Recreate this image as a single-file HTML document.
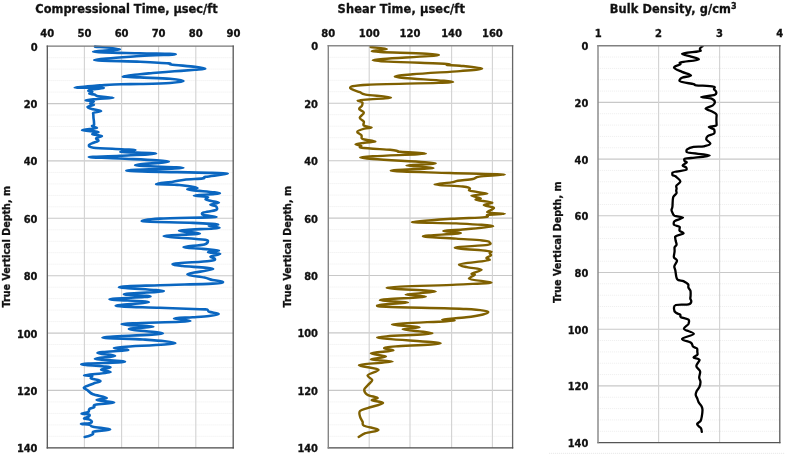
<!DOCTYPE html><html><head><meta charset="utf-8"><title>Logs</title>
<style>html,body{margin:0;padding:0;background:#fff}svg{display:block}text{font-family:"DejaVu Sans","Liberation Sans",sans-serif;font-weight:bold;fill:#111;stroke:#111;stroke-width:0.3px}</style></head><body>
<svg width="785" height="454" viewBox="0 0 785 454">
<rect width="785" height="454" fill="#fff"/>
<line x1="47.3" x2="233.2" y1="57.7" y2="57.7" stroke="#f0f0f0" stroke-width="1" stroke-dasharray="1.2 0.8"/>
<line x1="47.3" x2="233.2" y1="69.1" y2="69.1" stroke="#f0f0f0" stroke-width="1" stroke-dasharray="1.2 0.8"/>
<line x1="47.3" x2="233.2" y1="80.6" y2="80.6" stroke="#f0f0f0" stroke-width="1" stroke-dasharray="1.2 0.8"/>
<line x1="47.3" x2="233.2" y1="92.1" y2="92.1" stroke="#f0f0f0" stroke-width="1" stroke-dasharray="1.2 0.8"/>
<line x1="47.3" x2="233.2" y1="115.0" y2="115.0" stroke="#f0f0f0" stroke-width="1" stroke-dasharray="1.2 0.8"/>
<line x1="47.3" x2="233.2" y1="126.5" y2="126.5" stroke="#f0f0f0" stroke-width="1" stroke-dasharray="1.2 0.8"/>
<line x1="47.3" x2="233.2" y1="138.0" y2="138.0" stroke="#f0f0f0" stroke-width="1" stroke-dasharray="1.2 0.8"/>
<line x1="47.3" x2="233.2" y1="149.5" y2="149.5" stroke="#f0f0f0" stroke-width="1" stroke-dasharray="1.2 0.8"/>
<line x1="47.3" x2="233.2" y1="172.4" y2="172.4" stroke="#f0f0f0" stroke-width="1" stroke-dasharray="1.2 0.8"/>
<line x1="47.3" x2="233.2" y1="183.9" y2="183.9" stroke="#f0f0f0" stroke-width="1" stroke-dasharray="1.2 0.8"/>
<line x1="47.3" x2="233.2" y1="195.4" y2="195.4" stroke="#f0f0f0" stroke-width="1" stroke-dasharray="1.2 0.8"/>
<line x1="47.3" x2="233.2" y1="206.8" y2="206.8" stroke="#f0f0f0" stroke-width="1" stroke-dasharray="1.2 0.8"/>
<line x1="47.3" x2="233.2" y1="229.8" y2="229.8" stroke="#f0f0f0" stroke-width="1" stroke-dasharray="1.2 0.8"/>
<line x1="47.3" x2="233.2" y1="241.3" y2="241.3" stroke="#f0f0f0" stroke-width="1" stroke-dasharray="1.2 0.8"/>
<line x1="47.3" x2="233.2" y1="252.7" y2="252.7" stroke="#f0f0f0" stroke-width="1" stroke-dasharray="1.2 0.8"/>
<line x1="47.3" x2="233.2" y1="264.2" y2="264.2" stroke="#f0f0f0" stroke-width="1" stroke-dasharray="1.2 0.8"/>
<line x1="47.3" x2="233.2" y1="287.2" y2="287.2" stroke="#f0f0f0" stroke-width="1" stroke-dasharray="1.2 0.8"/>
<line x1="47.3" x2="233.2" y1="298.6" y2="298.6" stroke="#f0f0f0" stroke-width="1" stroke-dasharray="1.2 0.8"/>
<line x1="47.3" x2="233.2" y1="310.1" y2="310.1" stroke="#f0f0f0" stroke-width="1" stroke-dasharray="1.2 0.8"/>
<line x1="47.3" x2="233.2" y1="321.6" y2="321.6" stroke="#f0f0f0" stroke-width="1" stroke-dasharray="1.2 0.8"/>
<line x1="47.3" x2="233.2" y1="344.5" y2="344.5" stroke="#f0f0f0" stroke-width="1" stroke-dasharray="1.2 0.8"/>
<line x1="47.3" x2="233.2" y1="356.0" y2="356.0" stroke="#f0f0f0" stroke-width="1" stroke-dasharray="1.2 0.8"/>
<line x1="47.3" x2="233.2" y1="367.5" y2="367.5" stroke="#f0f0f0" stroke-width="1" stroke-dasharray="1.2 0.8"/>
<line x1="47.3" x2="233.2" y1="379.0" y2="379.0" stroke="#f0f0f0" stroke-width="1" stroke-dasharray="1.2 0.8"/>
<line x1="47.3" x2="233.2" y1="401.9" y2="401.9" stroke="#f0f0f0" stroke-width="1" stroke-dasharray="1.2 0.8"/>
<line x1="47.3" x2="233.2" y1="413.4" y2="413.4" stroke="#f0f0f0" stroke-width="1" stroke-dasharray="1.2 0.8"/>
<line x1="47.3" x2="233.2" y1="424.9" y2="424.9" stroke="#f0f0f0" stroke-width="1" stroke-dasharray="1.2 0.8"/>
<line x1="47.3" x2="233.2" y1="436.3" y2="436.3" stroke="#f0f0f0" stroke-width="1" stroke-dasharray="1.2 0.8"/>
<line x1="47.3" x2="233.2" y1="103.6" y2="103.6" stroke="#c8c8c8" stroke-width="1.1"/>
<line x1="47.3" x2="233.2" y1="160.9" y2="160.9" stroke="#c8c8c8" stroke-width="1.1"/>
<line x1="47.3" x2="233.2" y1="218.3" y2="218.3" stroke="#c8c8c8" stroke-width="1.1"/>
<line x1="47.3" x2="233.2" y1="275.7" y2="275.7" stroke="#c8c8c8" stroke-width="1.1"/>
<line x1="47.3" x2="233.2" y1="333.1" y2="333.1" stroke="#c8c8c8" stroke-width="1.1"/>
<line x1="47.3" x2="233.2" y1="390.4" y2="390.4" stroke="#c8c8c8" stroke-width="1.1"/>
<line x1="84.4" x2="84.4" y1="46.2" y2="447.8" stroke="#d2d2d2" stroke-width="1.1"/>
<line x1="121.6" x2="121.6" y1="46.2" y2="447.8" stroke="#d2d2d2" stroke-width="1.1"/>
<line x1="158.6" x2="158.6" y1="46.2" y2="447.8" stroke="#d2d2d2" stroke-width="1.1"/>
<line x1="195.8" x2="195.8" y1="46.2" y2="447.8" stroke="#d2d2d2" stroke-width="1.1"/>
<path d="M95.0 46.6C99.2 47.0 119.9 48.4 119.9 49.2C119.9 50.1 93.1 51.0 93.1 51.7C93.1 52.4 126.2 52.9 140.0 53.3C153.8 53.7 175.7 53.8 175.7 54.3C175.7 54.8 153.6 55.0 140.0 56.0C126.4 57.0 94.1 59.0 94.1 60.0C94.1 61.0 127.6 61.1 140.0 61.7C152.4 62.3 163.5 62.9 168.7 63.4C173.9 63.9 166.6 63.9 171.0 64.5C175.4 65.1 189.3 66.1 195.0 66.8C200.7 67.5 205.3 68.2 205.3 68.7C205.3 69.2 200.1 69.4 195.0 69.8C189.9 70.2 181.5 70.8 174.5 71.3C167.5 71.8 158.6 72.5 152.8 73.0C147.1 73.5 145.0 73.6 140.0 74.2C135.0 74.8 122.8 75.9 122.8 76.4C122.8 76.9 132.1 77.0 140.0 77.4C147.9 77.8 162.7 78.2 170.0 78.8C177.3 79.4 183.6 80.4 183.6 81.1C183.6 81.8 177.3 82.5 170.0 83.0C162.7 83.5 148.2 83.8 140.0 84.0C131.8 84.2 127.7 84.0 121.0 84.2C114.3 84.4 107.7 84.9 100.0 85.4C92.3 86.0 74.7 87.1 74.7 87.5C74.7 87.9 103.9 87.7 103.9 88.0C103.9 88.3 94.6 88.8 92.0 89.3C89.4 89.8 88.3 90.5 88.3 90.9C88.3 91.3 92.4 91.3 92.4 91.8C92.4 92.2 89.3 93.1 89.3 93.6C89.3 94.1 93.0 94.1 94.5 94.6C96.0 95.0 95.3 95.8 98.5 96.3C101.7 96.8 113.4 97.3 113.4 97.8C113.4 98.2 102.1 98.6 97.5 99.0C92.9 99.4 85.6 99.8 85.6 100.2C85.6 100.6 93.9 101.0 93.9 101.6C93.9 102.1 90.1 103.0 90.1 103.5C90.1 104.0 93.9 104.1 93.9 104.7C93.9 105.3 87.5 106.2 87.5 106.9C87.5 107.7 90.7 108.5 93.0 109.2C95.3 109.9 101.1 110.5 101.1 111.1C101.1 111.7 93.1 112.4 93.1 113.0C93.1 113.6 93.2 113.7 93.3 114.5C93.4 115.3 93.4 116.9 93.5 118.0C93.6 119.1 93.8 119.8 93.9 121.0C94.0 122.2 94.1 124.2 94.1 125.0C94.1 125.8 91.9 125.6 91.9 126.1C91.9 126.6 97.0 127.3 97.0 128.0C97.0 128.7 82.0 129.5 82.0 130.2C82.0 130.9 98.5 131.3 98.5 132.0C98.5 132.7 92.3 133.5 92.3 134.2C92.3 134.8 101.9 135.2 101.9 135.9C101.9 136.6 96.1 137.6 96.1 138.4C96.1 139.2 98.5 140.0 98.5 140.7C98.5 141.4 95.0 142.1 93.4 142.8C91.8 143.5 89.0 144.2 89.0 145.0C89.0 145.8 88.0 147.0 93.4 147.7C98.8 148.4 114.5 148.8 121.5 149.2C128.5 149.6 135.4 149.6 135.4 150.0C135.4 150.4 120.2 151.2 120.2 151.8C120.2 152.4 156.1 152.9 156.1 153.6C156.1 154.3 131.2 155.2 120.0 155.8C108.8 156.4 88.8 156.7 88.8 157.1C88.8 157.5 106.7 157.8 120.0 158.5C133.3 159.2 168.9 160.4 168.9 161.5C168.9 162.6 135.1 164.2 135.1 165.3C135.1 166.4 183.4 166.9 183.4 167.8C183.4 168.7 126.3 169.6 126.3 170.6C126.3 171.6 227.8 172.6 227.8 173.6C227.8 174.6 210.2 176.0 206.0 176.8C201.8 177.6 206.3 177.9 202.7 178.4C199.1 178.9 189.4 179.1 184.5 179.7C179.6 180.2 177.7 181.0 173.0 181.7C168.3 182.4 156.1 183.3 156.1 183.9C156.1 184.5 172.6 184.3 179.5 185.0C186.4 185.7 197.5 187.3 197.5 188.0C197.5 188.7 187.3 188.4 187.3 189.3C187.3 190.2 219.9 192.3 219.9 193.3C219.9 194.3 193.9 194.9 193.9 195.5C193.9 196.1 208.2 196.4 208.2 197.1C208.2 197.8 205.5 198.7 205.5 199.6C205.5 200.5 218.9 201.8 218.9 202.6C218.9 203.4 210.4 203.9 210.4 204.6C210.4 205.3 216.5 205.8 216.5 206.7C216.5 207.6 218.2 209.0 216.0 210.0C213.8 211.0 205.6 211.7 203.5 212.5C201.4 213.3 201.3 214.3 203.5 215.0C205.7 215.7 216.5 216.3 216.5 216.9C216.5 217.5 172.2 217.9 159.7 218.6C147.2 219.3 141.7 220.5 141.7 221.2C141.7 221.9 180.1 222.3 192.8 222.9C205.6 223.5 218.2 224.0 218.2 224.5C218.2 225.0 208.8 225.1 208.8 225.7C208.8 226.2 219.5 227.0 219.5 227.8C219.5 228.6 179.0 229.8 179.0 230.7C179.0 231.6 199.9 232.6 199.9 233.5C199.9 234.4 163.7 235.2 163.7 236.1C163.7 237.0 188.6 238.2 196.0 239.0C203.4 239.8 207.9 239.7 207.9 240.6C207.9 241.5 208.5 243.3 204.4 244.4C200.3 245.5 183.5 246.4 183.5 247.2C183.5 247.9 196.8 248.3 202.7 248.9C208.6 249.5 219.0 249.9 219.0 250.5C219.0 251.1 208.0 251.6 208.0 252.2C208.0 252.8 220.2 253.1 220.2 253.8C220.2 254.6 210.4 255.9 210.4 256.7C210.4 257.5 214.9 258.1 214.9 258.8C214.9 259.5 216.4 260.1 209.3 261.0C202.2 261.9 172.4 263.3 172.4 264.1C172.4 264.9 176.0 265.2 182.8 266.0C189.6 266.8 213.2 267.7 213.2 269.1C213.2 270.5 187.3 272.8 187.3 274.2C187.3 275.6 200.2 276.5 204.4 277.5C208.6 278.5 209.5 279.3 212.6 280.0C215.7 280.7 223.1 281.3 223.1 281.9C223.1 282.5 223.2 283.1 212.6 283.6C202.0 284.2 175.3 284.6 159.7 285.2C144.1 285.8 118.9 286.2 118.9 287.2C118.9 288.2 163.9 289.9 163.9 291.1C163.9 292.3 123.9 293.3 123.9 294.2C123.9 295.1 150.5 295.6 150.5 296.4C150.5 297.2 109.5 298.3 109.5 299.2C109.5 300.1 148.9 300.9 148.9 302.0C148.9 303.1 115.6 304.9 115.6 305.8C115.6 306.8 145.6 307.1 159.7 307.7C173.8 308.3 192.1 308.9 200.0 309.2C207.9 309.5 205.4 309.2 207.0 309.6C208.6 310.0 207.4 311.1 209.3 311.8C211.2 312.5 218.7 313.2 218.7 313.9C218.7 314.6 213.4 315.4 209.1 316.0C204.8 316.6 198.5 316.9 192.7 317.3C186.8 317.7 174.0 317.9 174.0 318.5C174.0 319.1 190.4 320.1 190.4 321.0C190.4 321.9 121.6 323.1 121.6 324.1C121.6 325.1 153.4 326.0 153.4 326.8C153.4 327.6 128.9 328.0 128.9 329.1C128.9 330.2 162.9 332.0 162.9 333.4C162.9 334.8 102.4 336.5 102.4 337.5C102.4 338.5 130.8 338.6 143.0 339.5C155.2 340.4 175.4 341.8 175.4 343.2C175.4 344.6 113.9 346.8 113.9 347.9C113.9 349.0 128.3 349.1 128.3 349.9C128.3 350.7 97.4 351.9 97.4 352.9C97.4 353.9 115.1 354.9 115.1 355.9C115.1 356.9 94.9 357.7 94.9 358.7C94.9 359.7 125.0 360.8 125.0 361.7C125.0 362.6 81.2 363.3 81.2 364.2C81.2 365.1 110.5 366.3 110.5 367.2C110.5 368.1 101.1 368.9 101.1 369.7C101.1 370.5 110.5 371.3 110.5 372.2C110.5 373.1 84.1 374.6 84.1 375.2C84.1 375.8 92.3 375.5 92.3 376.0C92.3 376.5 90.7 377.4 90.7 378.2C90.7 379.0 100.5 380.1 100.5 380.9C100.5 381.7 97.3 382.1 95.5 382.8C93.7 383.5 91.5 384.2 89.6 385.0C87.6 385.8 83.8 386.8 83.8 387.7C83.8 388.6 86.5 389.5 88.0 390.6C89.5 391.7 89.9 393.1 93.0 394.3C96.1 395.5 106.8 396.9 106.8 397.9C106.8 398.9 96.6 399.3 96.6 400.1C96.6 400.9 114.2 401.7 114.2 402.5C114.2 403.3 98.7 404.0 95.4 404.8C92.1 405.6 95.2 406.4 94.2 407.1C93.2 407.8 90.4 408.1 89.4 408.9C88.4 409.7 89.7 411.1 88.4 411.9C87.1 412.7 81.6 413.3 81.6 413.7C81.6 414.1 87.7 413.9 88.9 414.4C90.1 414.9 89.7 415.9 88.9 416.6C88.1 417.3 84.0 417.9 84.0 418.4C84.0 418.9 88.2 419.1 89.5 419.6C90.8 420.1 91.9 420.8 91.9 421.4C91.9 422.0 91.3 422.8 89.5 423.2C87.7 423.6 81.0 423.6 81.0 423.9C81.0 424.2 87.5 424.3 89.5 424.8C91.5 425.3 89.5 426.0 93.0 426.8C96.5 427.6 110.2 428.7 110.2 429.5C110.2 430.3 97.1 430.8 94.2 431.5C91.3 432.2 93.8 433.2 93.0 433.9C92.2 434.6 90.9 435.2 89.5 435.7C88.1 436.2 85.5 436.7 84.7 436.9" fill="none" stroke="#0a66c0" stroke-width="2.6" stroke-linejoin="round" stroke-linecap="round"/>
<line x1="47.3" y1="46.2" x2="233.2" y2="46.2" stroke="#777" stroke-width="1.3" stroke-linecap="square"/>
<line x1="233.2" y1="46.2" x2="233.2" y2="447.8" stroke="#555" stroke-width="1.3" stroke-linecap="square"/>
<line x1="47.3" y1="447.8" x2="233.2" y2="447.8" stroke="#484848" stroke-width="1.3" stroke-linecap="square"/>
<line x1="47.3" y1="46.2" x2="47.3" y2="447.8" stroke="#555" stroke-width="1.3" stroke-linecap="square"/>
<text x="47.3" y="36.6" font-size="10" text-anchor="middle">40</text>
<text x="84.4" y="36.6" font-size="10" text-anchor="middle">50</text>
<text x="121.6" y="36.6" font-size="10" text-anchor="middle">60</text>
<text x="158.6" y="36.6" font-size="10" text-anchor="middle">70</text>
<text x="195.8" y="36.6" font-size="10" text-anchor="middle">80</text>
<text x="233.5" y="36.6" font-size="10" text-anchor="middle">90</text>
<text x="37.5" y="50.7" font-size="9.9" text-anchor="end">0</text>
<text x="37.5" y="108.1" font-size="9.9" text-anchor="end">20</text>
<text x="37.5" y="165.4" font-size="9.9" text-anchor="end">40</text>
<text x="37.5" y="222.8" font-size="9.9" text-anchor="end">60</text>
<text x="37.5" y="280.2" font-size="9.9" text-anchor="end">80</text>
<text x="37.5" y="337.6" font-size="9.9" text-anchor="end">100</text>
<text x="37.5" y="394.9" font-size="9.9" text-anchor="end">120</text>
<text x="37.5" y="452.3" font-size="9.9" text-anchor="end">140</text>
<text x="126.5" y="12.6" font-size="11.4" letter-spacing="0" text-anchor="middle">Compressional Time, µsec/ft</text>
<text transform="translate(10.2 246.8) rotate(-90)" font-size="9.6" text-anchor="middle">True Vertical Depth, m</text>
<line x1="328.3" x2="512.6" y1="57.3" y2="57.3" stroke="#f0f0f0" stroke-width="1" stroke-dasharray="1.2 0.8"/>
<line x1="328.3" x2="512.6" y1="68.8" y2="68.8" stroke="#f0f0f0" stroke-width="1" stroke-dasharray="1.2 0.8"/>
<line x1="328.3" x2="512.6" y1="80.3" y2="80.3" stroke="#f0f0f0" stroke-width="1" stroke-dasharray="1.2 0.8"/>
<line x1="328.3" x2="512.6" y1="91.7" y2="91.7" stroke="#f0f0f0" stroke-width="1" stroke-dasharray="1.2 0.8"/>
<line x1="328.3" x2="512.6" y1="114.7" y2="114.7" stroke="#f0f0f0" stroke-width="1" stroke-dasharray="1.2 0.8"/>
<line x1="328.3" x2="512.6" y1="126.2" y2="126.2" stroke="#f0f0f0" stroke-width="1" stroke-dasharray="1.2 0.8"/>
<line x1="328.3" x2="512.6" y1="137.7" y2="137.7" stroke="#f0f0f0" stroke-width="1" stroke-dasharray="1.2 0.8"/>
<line x1="328.3" x2="512.6" y1="149.2" y2="149.2" stroke="#f0f0f0" stroke-width="1" stroke-dasharray="1.2 0.8"/>
<line x1="328.3" x2="512.6" y1="172.1" y2="172.1" stroke="#f0f0f0" stroke-width="1" stroke-dasharray="1.2 0.8"/>
<line x1="328.3" x2="512.6" y1="183.6" y2="183.6" stroke="#f0f0f0" stroke-width="1" stroke-dasharray="1.2 0.8"/>
<line x1="328.3" x2="512.6" y1="195.1" y2="195.1" stroke="#f0f0f0" stroke-width="1" stroke-dasharray="1.2 0.8"/>
<line x1="328.3" x2="512.6" y1="206.6" y2="206.6" stroke="#f0f0f0" stroke-width="1" stroke-dasharray="1.2 0.8"/>
<line x1="328.3" x2="512.6" y1="229.6" y2="229.6" stroke="#f0f0f0" stroke-width="1" stroke-dasharray="1.2 0.8"/>
<line x1="328.3" x2="512.6" y1="241.1" y2="241.1" stroke="#f0f0f0" stroke-width="1" stroke-dasharray="1.2 0.8"/>
<line x1="328.3" x2="512.6" y1="252.5" y2="252.5" stroke="#f0f0f0" stroke-width="1" stroke-dasharray="1.2 0.8"/>
<line x1="328.3" x2="512.6" y1="264.0" y2="264.0" stroke="#f0f0f0" stroke-width="1" stroke-dasharray="1.2 0.8"/>
<line x1="328.3" x2="512.6" y1="287.0" y2="287.0" stroke="#f0f0f0" stroke-width="1" stroke-dasharray="1.2 0.8"/>
<line x1="328.3" x2="512.6" y1="298.5" y2="298.5" stroke="#f0f0f0" stroke-width="1" stroke-dasharray="1.2 0.8"/>
<line x1="328.3" x2="512.6" y1="310.0" y2="310.0" stroke="#f0f0f0" stroke-width="1" stroke-dasharray="1.2 0.8"/>
<line x1="328.3" x2="512.6" y1="321.5" y2="321.5" stroke="#f0f0f0" stroke-width="1" stroke-dasharray="1.2 0.8"/>
<line x1="328.3" x2="512.6" y1="344.4" y2="344.4" stroke="#f0f0f0" stroke-width="1" stroke-dasharray="1.2 0.8"/>
<line x1="328.3" x2="512.6" y1="355.9" y2="355.9" stroke="#f0f0f0" stroke-width="1" stroke-dasharray="1.2 0.8"/>
<line x1="328.3" x2="512.6" y1="367.4" y2="367.4" stroke="#f0f0f0" stroke-width="1" stroke-dasharray="1.2 0.8"/>
<line x1="328.3" x2="512.6" y1="378.9" y2="378.9" stroke="#f0f0f0" stroke-width="1" stroke-dasharray="1.2 0.8"/>
<line x1="328.3" x2="512.6" y1="401.9" y2="401.9" stroke="#f0f0f0" stroke-width="1" stroke-dasharray="1.2 0.8"/>
<line x1="328.3" x2="512.6" y1="413.3" y2="413.3" stroke="#f0f0f0" stroke-width="1" stroke-dasharray="1.2 0.8"/>
<line x1="328.3" x2="512.6" y1="424.8" y2="424.8" stroke="#f0f0f0" stroke-width="1" stroke-dasharray="1.2 0.8"/>
<line x1="328.3" x2="512.6" y1="436.3" y2="436.3" stroke="#f0f0f0" stroke-width="1" stroke-dasharray="1.2 0.8"/>
<line x1="328.3" x2="512.6" y1="103.2" y2="103.2" stroke="#c8c8c8" stroke-width="1.1"/>
<line x1="328.3" x2="512.6" y1="160.7" y2="160.7" stroke="#c8c8c8" stroke-width="1.1"/>
<line x1="328.3" x2="512.6" y1="218.1" y2="218.1" stroke="#c8c8c8" stroke-width="1.1"/>
<line x1="328.3" x2="512.6" y1="275.5" y2="275.5" stroke="#c8c8c8" stroke-width="1.1"/>
<line x1="328.3" x2="512.6" y1="332.9" y2="332.9" stroke="#c8c8c8" stroke-width="1.1"/>
<line x1="328.3" x2="512.6" y1="390.4" y2="390.4" stroke="#c8c8c8" stroke-width="1.1"/>
<line x1="369.2" x2="369.2" y1="45.8" y2="447.8" stroke="#d2d2d2" stroke-width="1.1"/>
<line x1="410.0" x2="410.0" y1="45.8" y2="447.8" stroke="#d2d2d2" stroke-width="1.1"/>
<line x1="451.6" x2="451.6" y1="45.8" y2="447.8" stroke="#d2d2d2" stroke-width="1.1"/>
<line x1="492.4" x2="492.4" y1="45.8" y2="447.8" stroke="#d2d2d2" stroke-width="1.1"/>
<path d="M370.6 47.0C373.3 47.4 386.8 48.4 386.8 49.1C386.8 49.8 371.7 50.3 371.7 51.3C371.7 52.3 439.0 53.4 439.0 54.9C439.0 56.4 372.8 58.7 372.8 60.2C372.8 61.7 431.8 62.9 444.2 63.7C456.6 64.5 444.4 64.7 447.0 65.0C449.6 65.3 454.1 65.1 460.0 65.7C465.9 66.3 482.1 67.7 482.1 68.6C482.1 69.5 471.6 70.1 460.0 71.1C448.4 72.0 423.7 73.3 412.8 74.3C401.9 75.2 394.8 75.5 394.8 76.8C394.8 78.1 453.1 80.6 453.1 81.9C453.1 83.2 385.3 83.7 368.1 84.7C350.9 85.7 350.1 86.8 350.1 88.0C350.1 89.2 357.2 91.1 359.8 92.2C362.4 93.3 360.4 93.7 365.6 94.6C370.8 95.5 391.0 96.6 391.0 97.6C391.0 98.6 357.6 99.6 357.6 100.4C357.6 101.2 362.5 101.6 362.5 102.5C362.5 103.4 362.6 104.6 362.0 105.7C361.4 106.8 359.1 107.7 359.1 108.9C359.1 110.1 363.9 111.2 363.9 112.7C363.9 114.2 359.7 116.3 359.7 117.8C359.7 119.3 363.1 120.3 363.8 121.6C364.5 122.9 362.5 124.5 363.8 125.5C365.1 126.5 371.6 127.1 371.6 127.6C371.6 128.1 366.8 128.0 364.4 128.7C362.0 129.4 357.2 130.8 357.2 131.9C357.2 133.0 360.6 134.0 361.4 135.1C362.1 136.2 361.2 137.6 361.7 138.3C362.2 139.0 362.1 139.0 364.4 139.5C366.7 140.0 375.4 141.0 375.4 141.5C375.4 142.0 367.7 142.2 364.4 142.7C361.1 143.2 355.5 143.8 355.5 144.3C355.5 144.8 360.1 145.3 361.2 145.9C362.2 146.5 357.0 147.2 361.8 147.8C366.6 148.5 384.0 149.3 390.0 149.8C396.0 150.3 395.9 150.7 397.6 151.0C399.3 151.3 395.3 151.4 400.0 151.8C404.7 152.2 425.8 152.5 425.8 153.5C425.8 154.5 360.1 156.0 360.1 157.6C360.1 159.2 435.7 162.0 435.7 163.3C435.7 164.6 406.4 164.6 406.4 165.4C406.4 166.2 433.5 167.0 433.5 167.9C433.5 168.8 390.7 169.8 390.7 170.7C390.7 171.5 431.0 172.3 450.0 173.0C469.0 173.7 504.8 174.0 504.8 174.6C504.8 175.2 484.7 175.9 479.4 176.6C474.1 177.3 476.4 178.3 472.8 179.0C469.2 179.7 461.5 180.1 457.9 180.7C454.3 181.3 455.2 181.8 451.3 182.4C447.4 183.0 434.5 183.8 434.5 184.5C434.5 185.2 456.9 185.8 462.8 186.5C468.7 187.2 470.0 187.8 470.0 188.5C470.0 189.2 468.9 189.8 468.9 190.6C468.9 191.4 487.4 192.8 487.4 193.6C487.4 194.4 471.4 194.8 471.4 195.6C471.4 196.4 480.8 197.7 480.8 198.4C480.8 199.1 475.5 199.0 475.5 199.7C475.5 200.4 492.4 201.8 492.4 202.7C492.4 203.6 483.8 204.1 483.8 205.0C483.8 205.9 494.0 206.8 494.0 208.0C494.0 209.2 487.1 211.2 487.1 212.2C487.1 213.2 504.8 213.4 504.8 213.8C504.8 214.2 491.0 214.4 487.7 214.9C484.4 215.4 491.3 216.4 485.2 217.1C479.1 217.8 463.5 218.0 451.3 218.8C439.1 219.6 411.8 221.3 411.8 222.1C411.8 222.9 442.6 222.7 456.2 223.4C469.8 224.1 493.2 225.2 493.2 226.2C493.2 227.2 471.1 228.7 462.8 229.5C454.5 230.3 443.3 230.3 443.3 230.9C443.3 231.5 460.9 232.1 460.9 233.0C460.9 233.9 422.9 235.4 422.9 236.3C422.9 237.2 445.2 237.7 456.2 238.6C467.2 239.5 489.1 240.5 489.1 241.6C489.1 242.7 493.4 243.9 487.7 244.9C482.0 245.9 454.8 246.6 454.8 247.7C454.8 248.8 491.5 250.6 491.5 251.5C491.5 252.4 489.6 252.5 489.6 253.1C489.6 253.7 491.1 254.5 491.1 255.3C491.1 256.1 486.3 257.3 486.3 258.1C486.3 258.9 489.9 259.1 489.9 260.1C489.9 261.2 459.0 263.2 459.0 264.4C459.0 265.6 463.2 266.3 467.0 267.2C470.8 268.1 481.6 268.6 481.6 269.7C481.6 270.8 471.4 273.0 471.4 273.8C471.4 274.6 474.9 273.9 474.9 274.7C474.9 275.5 468.9 277.5 468.9 278.8C468.9 280.1 491.5 281.5 491.5 282.5C491.5 283.5 473.7 283.7 456.2 284.6C438.7 285.5 386.6 286.6 386.6 287.8C386.6 289.0 435.7 290.5 435.7 291.6C435.7 292.7 405.6 293.8 405.6 294.6C405.6 295.4 425.8 295.7 425.8 296.6C425.8 297.5 379.9 299.2 379.9 300.2C379.9 301.2 408.0 301.6 408.0 302.4C408.0 303.2 378.8 304.1 378.8 304.8C378.8 305.5 371.8 306.1 386.3 306.8C400.8 307.5 449.0 308.1 466.0 309.0C483.0 309.9 488.3 311.1 488.3 312.0C488.3 312.9 486.7 313.6 483.0 314.5C479.3 315.4 473.0 316.5 466.2 317.3C459.4 318.1 442.1 319.0 442.1 319.5C442.1 320.0 454.7 319.7 454.7 320.5C454.7 321.3 392.0 323.3 392.0 324.4C392.0 325.5 419.6 326.4 419.6 327.2C419.6 328.0 402.6 328.3 402.6 329.3C402.6 330.3 432.4 331.9 432.4 333.3C432.4 334.7 377.1 335.9 377.1 337.5C377.1 339.1 440.7 341.7 440.7 343.2C440.7 344.7 405.4 345.6 396.0 346.4C386.6 347.2 384.1 347.5 384.1 348.2C384.1 348.9 393.5 349.5 393.5 350.4C393.5 351.2 370.8 352.3 370.8 353.3C370.8 354.3 386.0 355.6 386.0 356.6C386.0 357.6 370.8 358.6 370.8 359.4C370.8 360.2 392.6 360.6 392.6 361.6C392.6 362.6 358.9 363.8 358.9 365.2C358.9 366.6 378.6 368.1 378.6 369.8C378.6 371.5 367.5 373.9 367.5 375.6C367.5 377.3 372.3 378.5 372.3 380.1C372.3 381.7 369.3 383.4 368.0 385.0C366.7 386.6 364.2 388.1 364.2 389.7C364.2 391.3 365.1 393.3 367.3 394.7C369.6 396.1 377.7 397.1 377.7 398.0C377.7 398.9 371.7 399.4 371.7 400.2C371.7 401.0 383.1 401.6 383.1 402.9C383.1 404.2 372.0 406.5 368.1 407.9C364.2 409.2 361.4 409.6 360.0 411.0C358.6 412.4 359.6 414.7 360.0 416.5C360.4 418.3 361.9 420.3 362.6 421.8C363.3 423.3 361.4 424.4 364.0 425.7C366.6 427.0 378.5 428.6 378.5 429.9C378.5 431.1 368.7 432.0 365.4 433.2C362.1 434.4 359.8 436.3 358.7 436.9" fill="none" stroke="#7f6000" stroke-width="2.4" stroke-linejoin="round" stroke-linecap="round"/>
<line x1="328.3" y1="45.8" x2="512.6" y2="45.8" stroke="#8a8a8a" stroke-width="1.4" stroke-linecap="square"/>
<line x1="512.6" y1="45.8" x2="512.6" y2="447.8" stroke="#666" stroke-width="1.3" stroke-linecap="square"/>
<line x1="328.3" y1="447.8" x2="512.6" y2="447.8" stroke="#484848" stroke-width="1.3" stroke-linecap="square"/>
<line x1="328.3" y1="45.8" x2="328.3" y2="447.8" stroke="#858585" stroke-width="1.4" stroke-linecap="square"/>
<text x="328.3" y="36.6" font-size="10" text-anchor="middle">80</text>
<text x="369.2" y="36.6" font-size="10" text-anchor="middle">100</text>
<text x="410.0" y="36.6" font-size="10" text-anchor="middle">120</text>
<text x="451.6" y="36.6" font-size="10" text-anchor="middle">140</text>
<text x="492.4" y="36.6" font-size="10" text-anchor="middle">160</text>
<text x="318" y="50.3" font-size="9.9" text-anchor="end">0</text>
<text x="318" y="107.7" font-size="9.9" text-anchor="end">20</text>
<text x="318" y="165.2" font-size="9.9" text-anchor="end">40</text>
<text x="318" y="222.6" font-size="9.9" text-anchor="end">60</text>
<text x="318" y="280.0" font-size="9.9" text-anchor="end">80</text>
<text x="318" y="337.4" font-size="9.9" text-anchor="end">100</text>
<text x="318" y="394.9" font-size="9.9" text-anchor="end">120</text>
<text x="318" y="452.3" font-size="9.9" text-anchor="end">140</text>
<text x="401.3" y="12.6" font-size="11.4" letter-spacing="0.12" text-anchor="middle">Shear Time, µsec/ft</text>
<text transform="translate(290.7 246.8) rotate(-90)" font-size="9.6" text-anchor="middle">True Vertical Depth, m</text>
<line x1="598.0" x2="779.8" y1="57.0" y2="57.0" stroke="#f0f0f0" stroke-width="1" stroke-dasharray="1.2 0.8"/>
<line x1="598.0" x2="779.8" y1="68.4" y2="68.4" stroke="#f0f0f0" stroke-width="1" stroke-dasharray="1.2 0.8"/>
<line x1="598.0" x2="779.8" y1="79.7" y2="79.7" stroke="#f0f0f0" stroke-width="1" stroke-dasharray="1.2 0.8"/>
<line x1="598.0" x2="779.8" y1="91.1" y2="91.1" stroke="#f0f0f0" stroke-width="1" stroke-dasharray="1.2 0.8"/>
<line x1="598.0" x2="779.8" y1="113.7" y2="113.7" stroke="#f0f0f0" stroke-width="1" stroke-dasharray="1.2 0.8"/>
<line x1="598.0" x2="779.8" y1="125.1" y2="125.1" stroke="#f0f0f0" stroke-width="1" stroke-dasharray="1.2 0.8"/>
<line x1="598.0" x2="779.8" y1="136.4" y2="136.4" stroke="#f0f0f0" stroke-width="1" stroke-dasharray="1.2 0.8"/>
<line x1="598.0" x2="779.8" y1="147.8" y2="147.8" stroke="#f0f0f0" stroke-width="1" stroke-dasharray="1.2 0.8"/>
<line x1="598.0" x2="779.8" y1="170.4" y2="170.4" stroke="#f0f0f0" stroke-width="1" stroke-dasharray="1.2 0.8"/>
<line x1="598.0" x2="779.8" y1="181.8" y2="181.8" stroke="#f0f0f0" stroke-width="1" stroke-dasharray="1.2 0.8"/>
<line x1="598.0" x2="779.8" y1="193.1" y2="193.1" stroke="#f0f0f0" stroke-width="1" stroke-dasharray="1.2 0.8"/>
<line x1="598.0" x2="779.8" y1="204.5" y2="204.5" stroke="#f0f0f0" stroke-width="1" stroke-dasharray="1.2 0.8"/>
<line x1="598.0" x2="779.8" y1="227.1" y2="227.1" stroke="#f0f0f0" stroke-width="1" stroke-dasharray="1.2 0.8"/>
<line x1="598.0" x2="779.8" y1="238.5" y2="238.5" stroke="#f0f0f0" stroke-width="1" stroke-dasharray="1.2 0.8"/>
<line x1="598.0" x2="779.8" y1="249.8" y2="249.8" stroke="#f0f0f0" stroke-width="1" stroke-dasharray="1.2 0.8"/>
<line x1="598.0" x2="779.8" y1="261.2" y2="261.2" stroke="#f0f0f0" stroke-width="1" stroke-dasharray="1.2 0.8"/>
<line x1="598.0" x2="779.8" y1="283.8" y2="283.8" stroke="#f0f0f0" stroke-width="1" stroke-dasharray="1.2 0.8"/>
<line x1="598.0" x2="779.8" y1="295.2" y2="295.2" stroke="#f0f0f0" stroke-width="1" stroke-dasharray="1.2 0.8"/>
<line x1="598.0" x2="779.8" y1="306.5" y2="306.5" stroke="#f0f0f0" stroke-width="1" stroke-dasharray="1.2 0.8"/>
<line x1="598.0" x2="779.8" y1="317.9" y2="317.9" stroke="#f0f0f0" stroke-width="1" stroke-dasharray="1.2 0.8"/>
<line x1="598.0" x2="779.8" y1="340.5" y2="340.5" stroke="#f0f0f0" stroke-width="1" stroke-dasharray="1.2 0.8"/>
<line x1="598.0" x2="779.8" y1="351.9" y2="351.9" stroke="#f0f0f0" stroke-width="1" stroke-dasharray="1.2 0.8"/>
<line x1="598.0" x2="779.8" y1="363.2" y2="363.2" stroke="#f0f0f0" stroke-width="1" stroke-dasharray="1.2 0.8"/>
<line x1="598.0" x2="779.8" y1="374.6" y2="374.6" stroke="#f0f0f0" stroke-width="1" stroke-dasharray="1.2 0.8"/>
<line x1="598.0" x2="779.8" y1="397.2" y2="397.2" stroke="#f0f0f0" stroke-width="1" stroke-dasharray="1.2 0.8"/>
<line x1="598.0" x2="779.8" y1="408.6" y2="408.6" stroke="#f0f0f0" stroke-width="1" stroke-dasharray="1.2 0.8"/>
<line x1="598.0" x2="779.8" y1="419.9" y2="419.9" stroke="#f0f0f0" stroke-width="1" stroke-dasharray="1.2 0.8"/>
<line x1="598.0" x2="779.8" y1="431.3" y2="431.3" stroke="#f0f0f0" stroke-width="1" stroke-dasharray="1.2 0.8"/>
<line x1="598.0" x2="779.8" y1="102.4" y2="102.4" stroke="#c8c8c8" stroke-width="1.1"/>
<line x1="598.0" x2="779.8" y1="159.1" y2="159.1" stroke="#c8c8c8" stroke-width="1.1"/>
<line x1="598.0" x2="779.8" y1="215.8" y2="215.8" stroke="#c8c8c8" stroke-width="1.1"/>
<line x1="598.0" x2="779.8" y1="272.5" y2="272.5" stroke="#c8c8c8" stroke-width="1.1"/>
<line x1="598.0" x2="779.8" y1="329.2" y2="329.2" stroke="#c8c8c8" stroke-width="1.1"/>
<line x1="598.0" x2="779.8" y1="385.9" y2="385.9" stroke="#c8c8c8" stroke-width="1.1"/>
<line x1="658.6" x2="658.6" y1="45.7" y2="442.6" stroke="#d2d2d2" stroke-width="1.1"/>
<line x1="719.6" x2="719.6" y1="45.7" y2="442.6" stroke="#d2d2d2" stroke-width="1.1"/>
<path d="M702.6 46.1C702.1 46.6 699.8 48.1 699.8 48.9C699.8 49.7 700.8 50.1 700.8 50.9C700.8 51.7 682.0 52.8 682.0 53.8C682.0 54.8 688.2 55.7 691.0 56.6C693.8 57.5 698.9 58.5 698.9 59.4C698.9 60.3 684.0 61.5 680.9 62.3C677.8 63.1 681.4 63.4 680.2 64.3C679.1 65.2 674.0 66.2 674.0 67.5C674.0 68.8 679.2 70.6 682.0 71.9C684.8 73.2 691.0 74.5 691.0 75.5C691.0 76.5 683.9 76.8 682.0 77.7C680.1 78.6 679.4 80.0 679.4 81.1C679.4 82.2 690.8 83.4 693.6 84.1C696.4 84.8 692.9 84.9 696.2 85.3C699.5 85.7 710.4 85.9 713.4 86.6C716.4 87.2 713.5 88.3 714.0 89.2C714.5 90.1 716.2 90.8 716.2 91.7C716.2 92.7 717.2 94.0 714.7 94.9C712.2 95.8 701.1 96.4 701.1 97.0C701.1 97.6 709.2 97.7 711.5 98.6C713.8 99.5 714.9 101.1 714.9 102.2C714.9 103.3 714.3 104.3 712.8 105.4C711.2 106.5 705.6 107.6 705.6 108.6C705.6 109.6 709.7 110.1 711.5 111.2C713.3 112.3 716.6 113.6 716.6 115.0C716.6 116.4 716.4 117.8 716.4 119.5C716.4 121.2 716.6 123.9 716.6 125.2C716.6 126.5 708.8 126.3 708.8 127.1C708.8 127.8 714.3 128.6 714.3 129.7C714.3 130.8 715.2 132.4 714.1 133.5C713.0 134.6 709.0 135.1 707.7 136.1C706.4 137.1 706.2 138.1 706.2 139.3C706.2 140.5 710.4 142.3 710.4 143.5C710.4 144.7 706.7 145.7 703.9 146.3C701.1 146.9 696.4 146.4 693.6 146.9C690.8 147.4 688.3 148.5 687.1 149.4C685.9 150.3 686.6 151.2 686.6 152.2C686.6 153.2 709.8 154.4 709.8 155.4C709.8 156.4 695.2 157.4 691.0 158.0C686.8 158.6 685.8 158.3 684.7 158.8C683.7 159.3 684.4 160.6 684.7 161.2C685.1 161.8 686.8 161.7 686.8 162.4C686.8 163.1 682.6 164.6 682.6 165.4C682.6 166.2 685.5 166.8 686.2 167.5C686.9 168.2 686.6 169.0 686.6 169.8C686.6 170.6 672.4 171.5 672.4 172.4C672.4 173.3 672.0 174.5 672.6 175.2C673.2 175.9 674.5 175.4 675.8 176.5C677.1 177.6 680.4 180.0 680.4 181.6C680.4 183.2 676.2 184.9 676.2 186.1C676.2 187.3 676.6 187.9 676.6 188.6C676.6 189.3 676.2 189.8 676.2 190.5C676.2 191.2 676.6 192.0 676.6 193.1C676.6 194.2 673.9 194.9 673.2 197.2C672.5 199.5 672.7 204.7 672.4 206.8C672.1 208.9 671.5 209.1 671.5 210.0C671.5 210.9 671.9 211.6 672.4 212.5C672.9 213.4 672.7 214.8 674.5 215.7C676.3 216.5 683.0 216.7 683.0 217.6C683.0 218.5 676.1 219.9 674.6 221.1C673.1 222.3 673.8 223.6 673.8 224.6C673.8 225.6 679.8 226.0 679.8 227.0C679.8 228.0 679.4 229.3 679.4 230.4C679.4 231.5 683.6 232.2 683.6 233.3C683.6 234.4 675.1 235.6 675.1 236.8C675.1 238.0 675.4 239.3 675.6 240.6C675.9 241.9 676.6 243.2 676.6 244.4C676.6 245.6 674.5 246.5 674.5 247.6C674.5 248.7 674.6 249.6 674.6 251.1C674.6 252.6 673.8 255.3 673.8 256.9C673.8 258.5 677.0 259.1 677.0 260.7C677.0 262.3 674.3 264.8 674.3 266.4C674.3 268.0 674.8 268.2 675.3 270.3C675.8 272.4 675.9 277.4 677.2 279.2C678.6 281.0 681.6 280.2 683.4 281.1C685.2 282.0 687.3 283.2 688.1 284.3C688.9 285.4 688.0 286.4 688.4 287.5C688.8 288.6 690.0 289.4 690.4 290.7C690.8 292.0 690.6 293.9 690.6 295.2C690.6 296.5 690.3 297.4 690.3 298.4C690.3 299.4 691.3 300.2 691.3 301.2C691.3 302.2 691.1 303.8 688.5 304.4C685.9 305.0 678.2 304.2 675.8 305.0C673.4 305.8 674.0 307.6 674.0 308.9C674.0 310.2 674.8 311.8 675.8 312.7C676.8 313.6 679.4 313.9 680.2 314.6C681.1 315.4 679.5 316.4 680.9 317.2C682.3 318.0 687.2 318.6 688.5 319.7C689.8 320.8 688.7 322.0 688.7 323.5C688.7 325.0 683.9 327.0 683.9 328.7C683.9 330.4 693.8 332.1 693.8 333.8C693.8 335.5 682.0 337.4 682.0 338.9C682.0 340.4 689.2 341.4 691.0 342.7C692.8 344.0 692.0 345.5 693.0 346.5C694.0 347.5 696.3 347.6 697.0 348.5C697.7 349.4 697.2 350.6 697.3 351.6C697.4 352.6 697.6 353.5 697.6 354.5C697.6 355.5 693.5 356.5 693.5 357.4C693.5 358.3 699.6 358.6 699.6 360.0C699.6 361.4 696.3 364.1 696.3 366.0C696.3 367.9 700.2 369.8 700.2 371.7C700.2 373.6 699.2 375.8 699.2 377.5C699.2 379.2 700.5 380.3 700.5 381.9C700.5 383.5 700.0 385.5 699.4 387.0C698.8 388.5 697.3 389.6 696.7 390.9C696.1 392.2 695.7 393.4 695.7 394.7C695.7 396.0 696.8 397.2 697.3 398.5C697.8 399.8 698.0 401.1 698.7 402.4C699.4 403.7 700.9 404.9 701.5 406.2C702.1 407.5 702.5 408.3 702.5 410.0C702.5 411.7 702.1 414.7 701.8 416.5C701.5 418.3 701.3 419.8 700.5 421.0C699.7 422.2 697.1 423.1 697.1 424.0C697.1 424.9 698.4 425.8 699.0 426.5C699.6 427.2 700.5 427.3 701.0 428.2C701.5 429.1 701.7 431.3 701.8 431.9" fill="none" stroke="#000000" stroke-width="2.3" stroke-linejoin="round" stroke-linecap="round"/>
<line x1="598.0" y1="45.7" x2="779.8" y2="45.7" stroke="#808080" stroke-width="1.4" stroke-linecap="square"/>
<line x1="779.8" y1="45.7" x2="779.8" y2="442.6" stroke="#5a5a5a" stroke-width="1.3" stroke-linecap="square"/>
<line x1="598.0" y1="442.6" x2="779.8" y2="442.6" stroke="#555" stroke-width="1.3" stroke-linecap="square"/>
<line x1="598.0" y1="45.7" x2="598.0" y2="442.6" stroke="#8c8c8c" stroke-width="1.5" stroke-linecap="square"/>
<text x="598.2" y="36.6" font-size="10" text-anchor="middle">1</text>
<text x="658.6" y="36.6" font-size="10" text-anchor="middle">2</text>
<text x="719.6" y="36.6" font-size="10" text-anchor="middle">3</text>
<text x="779.8" y="36.6" font-size="10" text-anchor="middle">4</text>
<text x="588.3" y="50.2" font-size="9.9" text-anchor="end">0</text>
<text x="588.3" y="106.9" font-size="9.9" text-anchor="end">20</text>
<text x="588.3" y="163.6" font-size="9.9" text-anchor="end">40</text>
<text x="588.3" y="220.3" font-size="9.9" text-anchor="end">60</text>
<text x="588.3" y="277.0" font-size="9.9" text-anchor="end">80</text>
<text x="588.3" y="333.7" font-size="9.9" text-anchor="end">100</text>
<text x="588.3" y="390.4" font-size="9.9" text-anchor="end">120</text>
<text x="588.3" y="447.1" font-size="9.9" text-anchor="end">140</text>
<text x="673.2" y="12.6" font-size="11.4" letter-spacing="0.11" text-anchor="middle">Bulk Density, g/cm<tspan dy="-4" font-size="8">3</tspan></text>
<text transform="translate(560.7 242.3) rotate(-90)" font-size="9.6" text-anchor="middle">True Vertical Depth, m</text>
<line x1="549" x2="785" y1="453.3" y2="453.3" stroke="#e8e8e8" stroke-width="1" stroke-dasharray="1.2 0.8"/>
</svg></body></html>
